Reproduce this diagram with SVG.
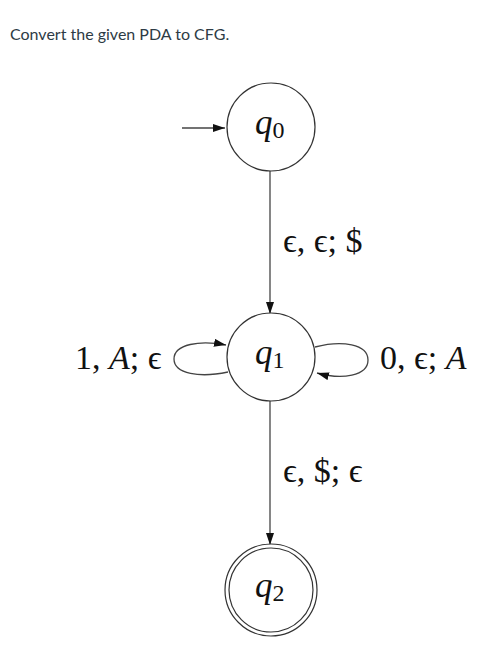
<svg xmlns="http://www.w3.org/2000/svg" width="495" height="661" viewBox="0 0 495 661">
<style>
.title{font-family:Lato,"Noto Sans",sans-serif;font-size:16px;fill:#2d3b45}
.st{fill:#fff;stroke:#333;stroke-width:1.2}
.q{font-family:"Liberation Serif","DejaVu Serif",serif;font-size:35px;fill:#111}
.lb{font-family:"Liberation Serif","DejaVu Serif",serif;font-size:34px;fill:#111}
.e{fill:none;stroke:#444;stroke-width:1.3}
</style>
<defs>
<marker id="ah" viewBox="0 0 12 8" refX="12" refY="4" markerWidth="12" markerHeight="8" markerUnits="userSpaceOnUse" orient="auto">
<path d="M0,0 L12,4 L0,8 Z" fill="#111"/>
</marker>
</defs>
<rect width="495" height="661" fill="#fff"/>
<text class="title" x="10" y="40">Convert the given PDA to CFG.</text>
<g id="connectors">
<line class="e" x1="182" y1="128" x2="225" y2="128" marker-end="url(#ah)"/>
<line class="e" x1="270" y1="171" x2="270" y2="314" marker-end="url(#ah)"/>
<line class="e" x1="270" y1="401" x2="270" y2="545" marker-end="url(#ah)"/>
<path class="e" d="M228,372 C200,378 174,374 174,359 C174,344 200,340 226,345" marker-end="url(#ah)"/>
<path class="e" d="M315,347 C342,340 368,344 368,360 C368,376 342,380 317,373" marker-end="url(#ah)"/>
<text class="lb" x="283" y="252">ϵ, ϵ; $</text>
<text class="lb" x="283" y="482">ϵ, $; ϵ</text>
<text class="lb" x="75" y="369">1, <tspan font-style="italic">A</tspan>; ϵ</text>
<text class="lb" x="380" y="369">0, ϵ; <tspan font-style="italic">A</tspan></text>
</g>
<g id="q0">
<circle class="st" cx="271" cy="127" r="44"/>
<text class="q" x="255" y="134"><tspan font-style="italic">q</tspan><tspan font-size="24" dy="4">0</tspan></text>
</g>
<g id="q1">
<circle class="st" cx="271" cy="357" r="44"/>
<text class="q" x="255" y="364"><tspan font-style="italic">q</tspan><tspan font-size="24" dy="4">1</tspan></text>
</g>
<g id="q2">
<circle class="st" cx="271" cy="590" r="46"/>
<circle class="st" cx="271" cy="590" r="42"/>
<text class="q" x="255" y="597"><tspan font-style="italic">q</tspan><tspan font-size="24" dy="4">2</tspan></text>
</g>
</svg>
